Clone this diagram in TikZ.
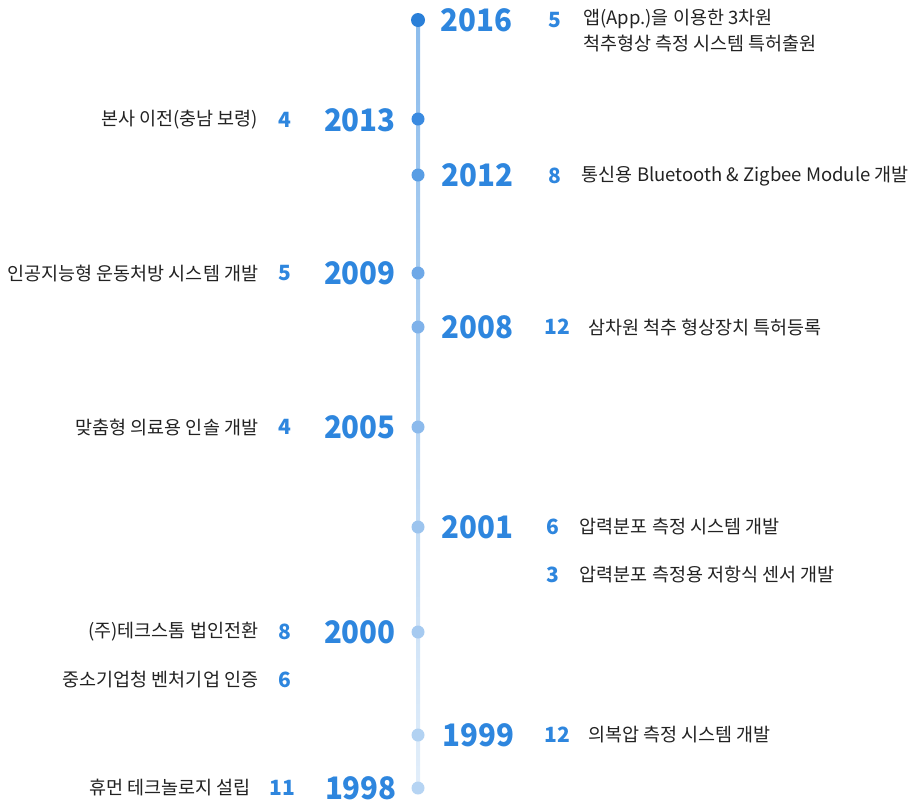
\documentclass[tikz,border=0pt]{standalone}
\usepackage{fontspec}
\usepackage{xcolor}
\usetikzlibrary{positioning,calc}
\newfontfamily\krfont{Noto Sans CJK KR}
\newfontfamily\kryear[FakeStretch=0.95]{Noto Sans CJK KR}
\definecolor{yrblue}{RGB}{46,134,222}
\definecolor{txtgray}{RGB}{34,34,34}
\definecolor{linetop}{RGB}{140,188,236}
\definecolor{linebot}{RGB}{226,238,250}
\definecolor{c2016}{RGB}{42,127,216}
\definecolor{c2013}{RGB}{58,138,224}
\definecolor{c2012}{RGB}{88,157,228}
\definecolor{c2009}{RGB}{110,168,231}
\definecolor{c2008}{RGB}{127,178,234}
\definecolor{c2005}{RGB}{140,186,236}
\definecolor{c2001}{RGB}{156,196,238}
\definecolor{c2000}{RGB}{166,202,240}
\definecolor{c1999}{RGB}{178,210,242}
\definecolor{c1998}{RGB}{182,212,243}
\tikzset{
  dot/.style={circle, fill=#1, inner sep=0pt, minimum size=13pt},
  yr/.style={font=\kryear\bfseries\fontsize{31}{32}\selectfont, text=yrblue, inner sep=0pt},
  mon/.style={font=\krfont\bfseries\fontsize{21}{21}\selectfont, text=yrblue, inner sep=0pt},
  txt/.style={font=\krfont\fontsize{18.5}{26}\selectfont, text=txtgray, inner sep=0pt, align=left},
  ltxt/.style={txt, align=right},
  tline/.style={top color=linetop, bottom color=linebot}
}

\begin{document}
\begin{tikzpicture}[x=1pt, y=-1pt]
  \useasboundingbox (0,0) rectangle (910,807);
  % timeline
  \coordinate (top) at (418,20);
  \coordinate (bot) at (418,788);
  \shade[tline] ($(top)+(-2,0)$) rectangle ($(bot)+(2,0)$);
  \node[dot=c2016, minimum size=14pt] (d2016) at (top) {};
  \node[dot=c2013] (d2013) at (418,119) {};
  \node[dot=c2012] (d2012) at (418,175) {};
  \node[dot=c2009] (d2009) at (418,273) {};
  \node[dot=c2008] (d2008) at (418,327) {};
  \node[dot=c2005] (d2005) at (418,427) {};
  \node[dot=c2001] (d2001) at (418,527) {};
  \node[dot=c2000] (d2000) at (418,632) {};
  \node[dot=c1999] (d1999) at (418,735) {};
  \node[dot=c1998] (d1998) at (bot) {};

  % right side
  \node[yr, anchor=west] (y2016) at (440,20) {2016};
  \node[mon] (m2016) at (555,20) {5};
  \node[txt, anchor=north west] (t2016) at (583,9) {앱(App.)을 이용한 3차원\\척추형상 측정 시스템 특허출원};

  \node[yr, anchor=west] (y2012) at (441,175) {2012};
  \node[mon] (m2012) at (555,176) {8};
  \node[txt, right=20pt of m2012] (t2012) {통신용 Bluetooth \& Zigbee Module 개발};

  \node[yr, anchor=west] (y2008) at (441,327) {2008};
  \node[mon] (m2008) at (557,327) {12};
  \node[txt, right=18pt of m2008] (t2008) {삼차원 척추 형상장치 특허등록};

  \node[yr, anchor=west] (y2001) at (441,527) {2001};
  \node[mon] (m2001) at (553,527) {6};
  \node[txt, right=20pt of m2001] (t2001) {압력분포 측정 시스템 개발};
  \node[mon] (m2001b) at (553,575) {3};
  \node[txt, right=20pt of m2001b] (t2001b) {압력분포 측정용 저항식 센서 개발};

  \node[yr, anchor=west] (y1999) at (442,735) {1999};
  \node[mon] (m1999) at (557,735) {12};
  \node[txt, right=18pt of m1999] (t1999) {의복압 측정 시스템 개발};

  % left side
  \node[yr, anchor=east] (y2013) at (396,120) {2013};
  \node[mon] (m2013) at (285,120) {4};
  \node[ltxt, left=20pt of m2013] (t2013) {본사 이전(충남 보령)};

  \node[yr, anchor=east] (y2009) at (396,273) {2009};
  \node[mon] (m2009) at (285,273) {5};
  \node[ltxt, left=20pt of m2009] (t2009) {인공지능형 운동처방 시스템 개발};

  \node[yr, anchor=east] (y2005) at (396,427) {2005};
  \node[mon] (m2005) at (285,427) {4};
  \node[ltxt, left=20pt of m2005] (t2005) {맞춤형 의료용 인솔 개발};

  \node[yr, anchor=east] (y2000) at (396,632) {2000};
  \node[mon] (m2000) at (285,632) {8};
  \node[ltxt, left=20pt of m2000] (t2000) {(주)테크스톰 법인전환};
  \node[mon] (m2000b) at (285,680) {6};
  \node[ltxt, left=20pt of m2000b] (t2000b) {중소기업청 벤처기업 인증};

  \node[yr, anchor=east] (y1998) at (397,788) {1998};
  \node[mon] (m1998) at (282,788) {11};
  \node[ltxt, left=18pt of m1998] (t1998) {휴먼 테크놀로지 설립};
\end{tikzpicture}
\end{document}
